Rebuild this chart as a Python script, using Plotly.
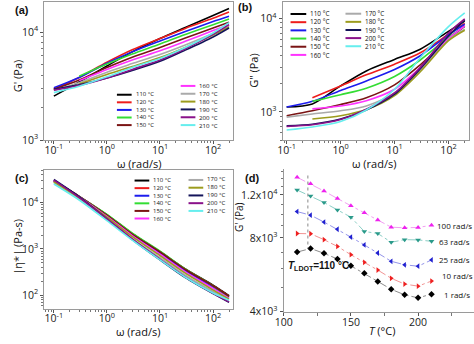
import math
import plotly.graph_objects as go

W, H = 474, 344
FONT = "Open Sans"

# ---------------- data ----------------
TEMPS = [110, 120, 130, 140, 150, 160, 170, 180, 190, 200, 210]
TEMP_COLORS = ["#000000", "#ee1c1c", "#1c1cee", "#33dd33", "#7a1414", "#ff33ff",
               "#aaaaaa", "#9c9c1e", "#14145a", "#8a128a", "#66eeee"]
OMEGA = [0.1, 0.3, 1, 3, 10, 30, 100, 200]

# (a) storage modulus G' (Pa)
GP_110 = [2550, 3450, 4850, 6550, 8700, 11000, 14200, 16500]
GP_120 = [2950, 3800, 5250, 6850, 8700, 10800, 13400, 15300]
GP_130 = [3050, 3800, 5150, 6550, 8250, 10100, 12500, 14000]
GP_140 = [None, 3900, 5050, 6250, 7750, 9500, 11700, 13200]
GP_150 = [2950, 3600, 4700, 5850, 7200, 8800, 10900, 12300]
GP_160 = [None, 3550, 4500, 5500, 6700, 8200, 10300, 11700]
GP_170 = [2900, 3400, 4250, 5100, 6200, 7600, 9700, 11300]
GP_180 = [None, 3300, 4050, 4800, 5800, 7200, 9400, 11100]
GP_190 = [2950, 3250, 3750, 4400, 5350, 6800, 9000, 10900]
GP_200 = [2900, 3200, 3750, 4500, 5500, 7000, 9500, 11700]
GP_210 = [2750, 3150, 3850, 4700, 5700, 7200, 9800, 12200]

# (b) loss modulus G'' (Pa)
GPP_110 = [1130, 1220, 1900, 2750, 3650, 4700, 7300, 9400]
GPP_120 = [None, 1420, 1900, 2500, 3250, 4300, 6800, 8900]
GPP_130 = [1130, 1300, 1700, 2150, 2850, 4000, 6700, 8700]
GPP_140 = [None, 1300, 1530, 1800, 2400, 3600, 6300, 8200]
GPP_150 = [910, 1030, 1200, 1420, 1950, 3200, 6000, 8300]
GPP_160 = [None, 1080, 1160, 1320, 1750, 3000, 6100, 8300]
GPP_170 = [880, 950, 1030, 1160, 1600, 2800, 5900, 7700]
GPP_180 = [None, 840, 910, 1060, 1500, 2700, 5800, 7500]
GPP_190 = [710, 740, 840, 1050, 1550, 2900, 6500, 9600]
GPP_200 = [700, 730, 830, 1070, 1600, 3000, 7000, 9900]
GPP_210 = [640, 690, 790, 1050, 1750, 3800, 8200, 11500]

# (c) complex viscosity |eta*| (Pa-s)
ETA_110 = [30000, 13800, 5500, 2150, 870, 370, 165, 98]
ETA_120 = [30000, 13800, 5500, 2150, 870, 365, 160, 95]
ETA_130 = [30500, 13500, 5300, 2050, 820, 340, 150, 90]
ETA_140 = [29000, 13500, 5600, 2200, 900, 370, 160, 92]
ETA_150 = [30000, 13500, 5400, 2100, 860, 360, 160, 95]
ETA_160 = [29500, 13300, 5100, 1950, 770, 320, 140, 85]
ETA_170 = [27500, 12000, 4400, 1650, 650, 270, 120, 80]
ETA_180 = [28500, 12800, 4900, 1850, 720, 300, 130, 82]
ETA_190 = [32000, 13500, 4500, 1600, 580, 240, 108, 70]
ETA_200 = [31000, 13000, 4500, 1650, 600, 250, 110, 72]
ETA_210 = [25500, 11500, 4100, 1550, 580, 245, 112, 78]

# (d) G' vs temperature at fixed frequencies
T_D = [110, 120, 130, 140, 150, 160, 170, 180, 190, 200, 210]
GD_100 = [14160, 13310, 12440, 11590, 10830, 10130, 9460, 8850, 8800, 8830, 9010]
GD_63 = [12560, 11880, 11170, 10410, 9730, 8500, 8340, 7680, 7870, 7850, 7750]
GD_25 = [10250, 9910, 9290, 8680, 8060, 7490, 6940, 6420, 6210, 6130, 6500]
GD_10 = [8340, 8320, 7870, 7380, 6830, 6360, 5910, 5470, 5180, 5080, 5330]
GD_1 = [7000, 7240, 6920, 6560, 6150, 5730, 5310, 4930, 4680, 4550, 4710]
RATE_LABELS = ["100 rad/s", "63 rad/s", "25 rad/s", "10 rad/s", "1 rad/s"]
TLDOT_T = [118, 118]
TLDOT_G = [14400, 7240]

GP = [GP_110, GP_120, GP_130, GP_140, GP_150, GP_160, GP_170, GP_180, GP_190, GP_200, GP_210]
GPP = [GPP_110, GPP_120, GPP_130, GPP_140, GPP_150, GPP_160, GPP_170, GPP_180, GPP_190, GPP_200, GPP_210]
ETA = [ETA_110, ETA_120, ETA_130, ETA_140, ETA_150, ETA_160, ETA_170, ETA_180, ETA_190, ETA_200, ETA_210]
GD = [GD_100, GD_63, GD_25, GD_10, GD_1]

# ---------------- figure ----------------
fig = go.Figure()


def PX(x):
    return x / W


def PY(y):
    return 1 - y / H


for i, t in enumerate(TEMPS):
    for vals, ax in ((GP, "1"), (GPP, "2"), (ETA, "3")):
        fig.add_trace(go.Scatter(
            x=OMEGA, y=vals[i], mode="lines",
            line=dict(color=TEMP_COLORS[i], width=1.6, shape="spline", smoothing=0.8),
            xaxis="x" if ax == "1" else "x" + ax,
            yaxis="y" if ax == "1" else "y" + ax,
            showlegend=False, hoverinfo="skip"))

D_MARK = ["#ee22ee", "#2a9a8a", "#2020d0", "#ee2020", "#000000"]
D_LINE = ["#f2a0f2", "#8ccfc6", "#9494ea", "#f29494", "#8c8c8c"]
D_SYM = ["triangle-up", "triangle-down", "triangle-left", "triangle-right", "diamond"]
for k, vals in enumerate(GD):
    fig.add_trace(go.Scatter(
        x=T_D, y=vals, mode="lines+markers", xaxis="x4", yaxis="y4",
        line=dict(color=D_LINE[k], width=1, dash="dashdot"),
        marker=dict(symbol=D_SYM[k], size=5, color=D_MARK[k]),
        showlegend=False, hoverinfo="skip"))
fig.add_trace(go.Scatter(
    x=TLDOT_T, y=TLDOT_G, mode="lines", xaxis="x4", yaxis="y4",
    line=dict(color="#888888", width=1, dash="dot"), showlegend=False, hoverinfo="skip"))

FRAME = "#9a9a9a"
TICKF = dict(family=FONT, size=10.5, color="#222222")


def minor_log(lo, hi):
    out = []
    for e in range(lo, hi):
        for m in range(2, 10):
            out.append(m * 10 ** e)
    return out


def log_x(domain, rng):
    return dict(type="log", domain=domain, range=rng, showline=True, linecolor=FRAME,
                linewidth=1.2, mirror=True, ticks="outside", ticklen=3, tickcolor="#555",
                tickvals=[0.1, 1, 10, 100], ticklabelstandoff=-3,
                ticktext=["10<sup>-1</sup>", "10<sup>0</sup>", "10<sup>1</sup>", "10<sup>2</sup>"],
                tickfont=TICKF, showgrid=False, zeroline=False,
                minor=dict(ticks="outside", ticklen=2, tickcolor="#777", tickvals=minor_log(-2, 3)))


def log_y(domain, rng, vals, texts):
    return dict(type="log", domain=domain, range=rng, showline=True, linecolor=FRAME,
                linewidth=1.2, mirror=True, ticks="outside", ticklen=3, tickcolor="#555",
                tickvals=vals, ticktext=texts, tickfont=TICKF, showgrid=False, zeroline=False,
                minor=dict(ticks="outside", ticklen=2, tickcolor="#777", tickvals=minor_log(1, 5)))


top_row = [PY(143), PY(2)]
bot_row = [PY(315), PY(174)]
left_col = [PX(36), PX(228)]

fig.update_layout(
    width=W, height=H, margin=dict(l=0, r=0, t=0, b=0),
    paper_bgcolor="white", plot_bgcolor="white",
    font=dict(family=FONT, color="#222"),
    xaxis=dict(**log_x(left_col, [-1.18, 2.37]), anchor="y"),
    yaxis=dict(**log_y(top_row, [3, 4.278], [1000, 10000], ["10<sup>3</sup>", "10<sup>4</sup>"]), anchor="x"),
    xaxis2=dict(**log_x([PX(279), PX(469)], [-1.073, 2.382]), anchor="y2"),
    yaxis2=dict(**log_y(top_row, [2.699, 4.178], [1000, 10000], ["10<sup>3</sup>", "10<sup>4</sup>"]), anchor="x2"),
    xaxis3=dict(**log_x(left_col, [-1.18, 2.37]), anchor="y3"),
    yaxis3=dict(**log_y(bot_row, [1.71, 4.70], [100, 1000, 10000],
                        ["10<sup>2</sup>", "10<sup>3</sup>", "10<sup>4</sup>"]), anchor="x3"),
    xaxis4=dict(domain=[PX(280), 1.0], range=[100, 241.6], anchor="y4", showline=True,
                linecolor=FRAME, linewidth=1.2, ticks="outside", ticklen=3, tickcolor="#555",
                tickvals=[100, 150, 200], tickfont=TICKF, showgrid=False, zeroline=False,
                ticklabelstandoff=-2,
                minor=dict(ticks="outside", ticklen=3, tickcolor="#777", tickvals=[125, 175, 225])),
    yaxis4=dict(type="log", domain=[PY(318), PY(172)], range=[3.602, 4.187], anchor="x4",
                showline=True, linecolor=FRAME, linewidth=1.2, ticks="outside", ticklen=3,
                tickcolor="#555", tickvals=[4000, 8000, 12000],
                ticktext=["4x10<sup>3</sup>", "8x10<sup>3</sup>", "1.2x10<sup>4</sup>"],
                tickfont=dict(family=FONT, size=10.5, color="#222"), showgrid=False, zeroline=False,
                minor=dict(ticks="outside", ticklen=2, tickcolor="#777",
                           tickvals=[5000, 6000, 7000, 9000, 10000, 11000, 13000, 14000, 15000])),
)

ann = []
shapes = []


def text(x, y, s, size=11, angle=0, xanchor="center", yanchor="middle", family=FONT, pad=1):
    ann.append(dict(x=PX(x), y=PY(y), xref="paper", yref="paper", text=s, showarrow=False,
                    xanchor=xanchor, yanchor=yanchor, textangle=angle, borderpad=pad,
                    align="left", font=dict(family=family, size=size, color="#111")))


# panel labels
for lab, x, y in (("(a)", 4, 10), ("(b)", 231, 7), ("(c)", 4, 182), ("(d)", 239, 182)):
    text(x, y, "<b>%s</b>" % lab, size=11, xanchor="left", family="Liberation Sans")

# axis titles
text(133, 166.5, "ω (rad/s)")
text(9, 78, "G' (Pa)", angle=-90)
text(249, 72, 'G" (Pa)', angle=-90)
text(372, 166.5, "ω (rad/s)")
text(9, 252, "|η*| (Pa-s)", angle=-90)
text(132, 338.5, "ω (rad/s)")
text(235, 222, "G' (Pa)", size=10, angle=-90)
text(381, 337, "<i>T</i> (°C)")

# legends drawn as line samples + one multi-line label block per column
LEGENDS = [
    # (temps idx, line x0, x1, text x, y0, dy)
    (range(0, 5), 110, 125, 128, 96.7, 7.75),
    (range(5, 11), 175, 190, 193, 87.7, 8.0),
    (range(0, 6), 287, 303, 306, 14.3, 8.35),
    (range(6, 11), 343, 359, 362, 14.0, 8.3),
    (range(0, 6), 128, 143, 146, 184.3, 7.75),
    (range(6, 11), 183, 198, 201, 183.7, 7.9),
]
for idxs, x0, x1, tx, y0, dy in LEGENDS:
    labels = []
    for j, i in enumerate(idxs):
        y = y0 + j * dy
        shapes.append(dict(type="line", xref="paper", yref="paper", x0=PX(x0), x1=PX(x1),
                           y0=PY(y), y1=PY(y), line=dict(color=TEMP_COLORS[i], width=2)))
        labels.append("%d °C" % TEMPS[i])
    n = len(labels)
    fs = dy / 1.3
    text(tx, y0 + (n - 1) * dy / 2, "<br>".join(labels), size=fs, xanchor="left", pad=0)

# panel (d) labels
RATE_X = [212.5, 214, 214, 216, 217.5]
RATE_SHIFT = [0, 0, 0, 6, 0]
for k, lab in enumerate(RATE_LABELS):
    ann.append(dict(x=RATE_X[k], y=math.log10(GD[k][-1]), xref="x4", yref="y4", text=lab,
                    showarrow=False, xanchor="left", yanchor="middle", yshift=RATE_SHIFT[k],
                    font=dict(family=FONT, size=8, color="#111")))
text(315, 272, "<b><i>T</i><sub>LDOT</sub>=110 °C</b>", size=10, family="Liberation Sans")

fig.update_layout(annotations=ann, shapes=shapes)
fig.write_html("out.html")
